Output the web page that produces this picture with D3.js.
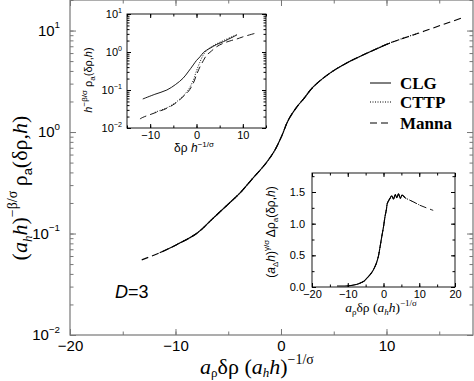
<!DOCTYPE html>
<html><head><meta charset="utf-8">
<script src="https://cdn.jsdelivr.net/npm/d3@7"></script>
<style>body{margin:0;background:#fff}svg{display:block}</style>
</head><body>
<script>
// ---------- data ----------
const seriesNames = ["CLG", "CTTP", "Manna"];
// main panel: collapsed curve (three models overlap)
const mainX = [-13.2,-11.5,-9.9,-8.0,-6.45,-5.0,-3.9,-2.8,-1.7,-1.2,-0.57,0.1,0.69,1.49,2.2,3.03,4.64,6.23,7.77,10.33,13.0,15.5,17.4];
const mainY = [0.055,0.0646,0.0776,0.1,0.141,0.195,0.25,0.338,0.455,0.53,0.665,0.93,1.31,1.76,2.16,2.77,3.81,4.79,5.74,7.54,9.4,11.6,13.6];
const mainRange = {CLG: [-11.5, 12.0], CTTP: [-9.9, 14.0], Manna: [-13.2, 17.4]};
// inset 1: uncollapsed data
const in1X = [-12.2,-11.6,-9,-6.4,-4.5,-2.9,-1.8,-0.7,0,0.76,1.5,2.2,2.9,4.36,5.8,7.9,8.7,10,12.6];
const in1CLG = [null,0.058,0.077,0.1,0.14,0.204,0.3,0.457,0.6,0.75,0.97,1.12,1.25,1.58,1.87,2.5,2.8,null,null];
const in1CTTP = [null,null,0.026,0.034,0.047,0.07,0.1,0.18,0.32,0.55,0.85,1.1,1.3,1.65,2.0,2.6,2.85,null,null];
const in1Manna = [0.0173,0.019,0.025,0.033,0.045,0.0667,0.09,0.15,0.25,0.41,0.6,0.83,0.98,1.38,1.7,2.07,2.2,2.5,3.09];
// inset 2: fluctuations
const in2X = [-13,-10,-8,-6.6,-5.5,-4.7,-3.8,-2.85,-2.1,-1.45,-1.0,-0.5,0,0.42,0.8,1.07,1.5,1.82,2.3,2.8,3.3,3.7,4.2,4.7,5.2,6,7.4,8.5,10.2,12,13.9];
const in2Y = [0.015,0.018,0.035,0.06,0.09,0.137,0.19,0.27,0.36,0.48,0.62,0.79,0.95,1.11,1.22,1.32,1.37,1.40,1.44,1.39,1.46,1.41,1.47,1.40,1.45,1.41,1.37,1.34,1.29,1.25,1.21];
const in2Range = {CLG: [-13, 6], CTTP: [-8, 10.2], Manna: [-10, 13.9]};
const mainXTicks = [-20,-10,0,10];
const mainYTicks = [0.01,0.1,1,10];
const in1XTicks = [-10,0,10];
const in1YTicks = [0.01,0.1,1,10];
const in2XTicks = [-20,-10,0,10,20];
const in2YTicks = [0,0.5,1.0,1.5];
const dash = {CLG: null, CTTP: "1,1.5", Manna: "7,4"};

// ---------- helpers ----------
const W = 474, H = 381;
const svg = d3.select("body").append("svg").attr("width", W).attr("height", H)
  .attr("font-family", "Liberation Sans, Arial, sans-serif");
const minus = s => String(s).replace("-", "\u2212");

function logMinor(dom) {
  const out = [];
  for (let e = -3; e <= 2; e++) for (let m = 1; m <= 9; m++) {
    const v = m * Math.pow(10, e);
    if (v >= dom[0] * 0.999 && v <= dom[1] * 1.001) out.push(v);
  }
  return out;
}
function expLabel(sel, fs) {
  sel.each(function(d) {
    const t = d3.select(this); const e = Math.round(Math.log10(d));
    t.text(null);
    t.append("tspan").text("10");
    t.append("tspan").attr("dy", -fs * 0.5).attr("font-size", fs * 0.65).text(minus(e));
  });
}
function cleanAxis(g, color) {
  g.select(".domain").remove();
  g.selectAll("line").attr("stroke", color);
  g.selectAll("text").attr("fill", "#000");
}

function panel(opt) {
  const {x, y, xMinor, yMinor, xTicks, yTicks, fs, color, logY, yFmt, tl, tlMinor, xPad, yPad} = opt;
  const g = svg.append("g");
  const [x0, x1] = x.range(), [y0, y1] = y.range();
  if (opt.bg) g.append("rect").attr("x", x0).attr("y", y1).attr("width", x1 - x0).attr("height", y0 - y1).attr("fill", "#fff");
  const b = g.append("g").attr("transform", `translate(0,${y0})`)
    .call(d3.axisBottom(x).tickValues(xMinor).tickSize(-tlMinor).tickFormat(""));
  cleanAxis(b, color);
  const bM = g.append("g").attr("transform", `translate(0,${y0})`)
    .call(d3.axisBottom(x).tickValues(xTicks).tickSize(-tl).tickPadding(xPad).tickFormat(d => minus(d)));
  cleanAxis(bM, color); bM.selectAll("text").attr("font-size", fs);
  const t = g.append("g").attr("transform", `translate(0,${y1})`)
    .call(d3.axisTop(x).tickValues(xMinor).tickSize(-tlMinor).tickFormat(""));
  cleanAxis(t, color);
  const tM = g.append("g").attr("transform", `translate(0,${y1})`)
    .call(d3.axisTop(x).tickValues(xTicks).tickSize(-tl).tickFormat(""));
  cleanAxis(tM, color);
  const l = g.append("g").attr("transform", `translate(${x0},0)`)
    .call(d3.axisLeft(y).tickValues(yMinor).tickSize(-tlMinor).tickFormat(""));
  cleanAxis(l, color);
  const lM = g.append("g").attr("transform", `translate(${x0},0)`)
    .call(d3.axisLeft(y).tickValues(yTicks).tickSize(-tl).tickPadding(yPad).tickFormat(yFmt || (d => d)));
  cleanAxis(lM, color); lM.selectAll("text").attr("font-size", fs);
  if (logY) expLabel(lM.selectAll("text"), fs);
  const r = g.append("g").attr("transform", `translate(${x1},0)`)
    .call(d3.axisRight(y).tickValues(yMinor).tickSize(-tlMinor).tickFormat(""));
  cleanAxis(r, color);
  const rM = g.append("g").attr("transform", `translate(${x1},0)`)
    .call(d3.axisRight(y).tickValues(yTicks).tickSize(-tl).tickFormat(""));
  cleanAxis(rM, color);
  g.append("rect").attr("x", x0).attr("y", y1).attr("width", x1 - x0).attr("height", y0 - y1)
    .attr("fill", "none").attr("stroke", color).attr("stroke-width", opt.sw || 1);
  return g;
}

function drawLine(g, xs, ys, x, y, name, range, w) {
  const pts = xs.map((d, i) => [d, ys[i]]).filter(p => p[1] != null && (!range || (p[0] >= range[0] && p[0] <= range[1])));
  g.append("path").datum(pts)
    .attr("d", d3.line().x(p => x(p[0])).y(p => y(p[1])).curve(d3.curveCatmullRom.alpha(0.5)))
    .attr("fill", "none").attr("stroke", "#000").attr("stroke-width", w || 1)
    .attr("stroke-dasharray", dash[name]);
}

// ---------- main panel ----------
const mx = d3.scaleLinear().domain([-20, 18.2]).range([70, 473]);
const my = d3.scaleLog().domain([0.01, 20]).range([335, 0]);
const mainG = panel({x: mx, y: my, xMinor: d3.range(-20, 18.2, 5), yMinor: logMinor([0.01, 20]),
  xTicks: mainXTicks, yTicks: mainYTicks, fs: 15, color: "#777", logY: true, tl: 6, tlMinor: 3.5, xPad: 5, yPad: 10, sw: 1.2});
seriesNames.forEach(n => drawLine(mainG, mainX, mainY, mx, my, n, mainRange[n], 1.1));

// main axis labels
const xl = svg.append("text").attr("x", 257).attr("y", 374).attr("text-anchor", "middle")
  .attr("font-size", 22).attr("font-family", "Liberation Serif, Times New Roman, serif");
xl.append("tspan").attr("font-style", "italic").text("a");
xl.append("tspan").attr("font-size", 13).attr("dy", 3).text("\u03c1");
xl.append("tspan").attr("dy", -3).text("\u03b4\u03c1 (");
xl.append("tspan").attr("font-style", "italic").text("a");
xl.append("tspan").attr("font-size", 13).attr("font-style", "italic").attr("dy", 3).text("h");
xl.append("tspan").attr("dy", -3).attr("font-style", "italic").text("h");
xl.append("tspan").text(")");
xl.append("tspan").attr("font-size", 14).attr("dy", -10).text("\u22121/\u03c3");

const yl = svg.append("text").attr("transform", "translate(27,188) rotate(-90)").attr("text-anchor", "middle")
  .attr("font-size", 22).attr("font-family", "Liberation Serif, Times New Roman, serif");
yl.append("tspan").text("(");
yl.append("tspan").attr("font-style", "italic").text("a");
yl.append("tspan").attr("font-size", 13).attr("font-style", "italic").attr("dy", 5).text("h");
yl.append("tspan").attr("dy", -5).attr("font-style", "italic").text("h");
yl.append("tspan").text(")");
yl.append("tspan").attr("font-size", 14).attr("dy", -10).text("\u2212\u03b2/\u03c3");
yl.append("tspan").attr("dy", 10).text("\u2009\u03c1");
yl.append("tspan").attr("font-size", 13).attr("dy", 5).attr("font-family", "Liberation Sans, sans-serif").text("a");
yl.append("tspan").attr("dy", -5).text("(\u03b4\u03c1,");
yl.append("tspan").attr("font-style", "italic").text("h");
yl.append("tspan").text(")");

// D=3
const dt = svg.append("text").attr("x", 115).attr("y", 298).attr("font-size", 18);
dt.append("tspan").attr("font-style", "italic").text("D");
dt.append("tspan").text("=3");

// legend
const legY = [83, 102, 123];
seriesNames.forEach((n, i) => {
  svg.append("line").attr("x1", 370).attr("x2", 391).attr("y1", legY[i]).attr("y2", legY[i])
    .attr("stroke", "#000").attr("stroke-width", 1).attr("stroke-dasharray", dash[n]);
  svg.append("text").attr("x", 400).attr("y", legY[i] + 6).attr("font-size", 17).attr("font-weight", "bold")
    .attr("font-family", "Liberation Serif, Times New Roman, serif").text(n);
});

// ---------- inset 1 ----------
const ax = d3.scaleLinear().domain([-15, 15]).range([127, 266]);
const ay = d3.scaleLog().domain([0.01, 10]).range([128, 14]);
const g1 = panel({x: ax, y: ay, xMinor: d3.range(-15, 15.1, 5), yMinor: logMinor([0.01, 10]),
  xTicks: in1XTicks, yTicks: in1YTicks, fs: 11, color: "#000", logY: true, tl: 4, tlMinor: 2.5, xPad: 3, yPad: 5, bg: true, sw: 0.9});
drawLine(g1, in1X, in1CLG, ax, ay, "CLG", null, 0.9);
drawLine(g1, in1X, in1CTTP, ax, ay, "CTTP", null, 0.9);
drawLine(g1, in1X, in1Manna, ax, ay, "Manna", null, 0.9);
const i1x = svg.append("text").attr("x", 194).attr("y", 152).attr("text-anchor", "middle").attr("font-size", 12);
i1x.append("tspan").text("\u03b4\u03c1 ");
i1x.append("tspan").attr("font-style", "italic").text("h");
i1x.append("tspan").attr("font-size", 8).attr("dy", -5).text("\u22121/\u03c3");
const i1y = svg.append("text").attr("transform", "translate(92,80) rotate(-90)").attr("text-anchor", "middle").attr("font-size", 11);
i1y.append("tspan").attr("font-style", "italic").text("h");
i1y.append("tspan").attr("font-size", 8).attr("dy", -5).text("\u2212\u03b2/\u03c3");
i1y.append("tspan").attr("dy", 5).text(" \u03c1");
i1y.append("tspan").attr("font-size", 8).attr("dy", 3).text("a");
i1y.append("tspan").attr("dy", -3).text("(\u03b4\u03c1,");
i1y.append("tspan").attr("font-style", "italic").text("h");
i1y.append("tspan").text(")");

// ---------- inset 2 ----------
const bx = d3.scaleLinear().domain([-20, 20]).range([312, 455]);
const by = d3.scaleLinear().domain([0, 1.8]).range([287, 173]);
const g2 = panel({x: bx, y: by, xMinor: d3.range(-20, 20.1, 5), yMinor: d3.range(0, 1.81, 0.25),
  xTicks: in2XTicks, yTicks: in2YTicks, fs: 11, color: "#000", logY: false, tl: 4, tlMinor: 2.5, xPad: 3, yPad: 7,
  yFmt: d3.format(".1f"), bg: true, sw: 0.9});
drawLine(g2, in2X, in2Y, bx, by, "CLG", in2Range.CLG, 1.1);
drawLine(g2, in2X, in2Y, bx, by, "CTTP", in2Range.CTTP, 1);
drawLine(g2, in2X, in2Y, bx, by, "Manna", in2Range.Manna, 0.9);
const i2x = svg.append("text").attr("x", 381).attr("y", 312).attr("text-anchor", "middle").attr("font-size", 13.5)
  .attr("font-family", "Liberation Serif, Times New Roman, serif");
i2x.append("tspan").attr("font-style", "italic").text("a");
i2x.append("tspan").attr("font-size", 9).attr("dy", 3).text("\u03c1");
i2x.append("tspan").attr("dy", -3).text("\u03b4\u03c1 (");
i2x.append("tspan").attr("font-style", "italic").text("a");
i2x.append("tspan").attr("font-size", 9).attr("font-style", "italic").attr("dy", 3).text("h");
i2x.append("tspan").attr("dy", -3).attr("font-style", "italic").text("h");
i2x.append("tspan").text(")");
i2x.append("tspan").attr("font-size", 9).attr("dy", -6).text("\u22121/\u03c3");
const i2y = svg.append("text").attr("transform", "translate(275,232) rotate(-90)").attr("text-anchor", "middle").attr("font-size", 12);
i2y.append("tspan").text("(");
i2y.append("tspan").attr("font-style", "italic").text("a");
i2y.append("tspan").attr("font-size", 8).attr("dy", 3).text("\u0394");
i2y.append("tspan").attr("dy", -3).attr("font-style", "italic").text("h");
i2y.append("tspan").text(")");
i2y.append("tspan").attr("font-size", 8).attr("dy", -6).text("\u03b3/\u03c3");
i2y.append("tspan").attr("dy", 6).text(" \u0394\u03c1");
i2y.append("tspan").attr("font-size", 8).attr("dy", 3).text("a");
i2y.append("tspan").attr("dy", -3).text("(\u03b4\u03c1,");
i2y.append("tspan").attr("font-style", "italic").text("h");
i2y.append("tspan").text(")");
</script>
</body></html>
